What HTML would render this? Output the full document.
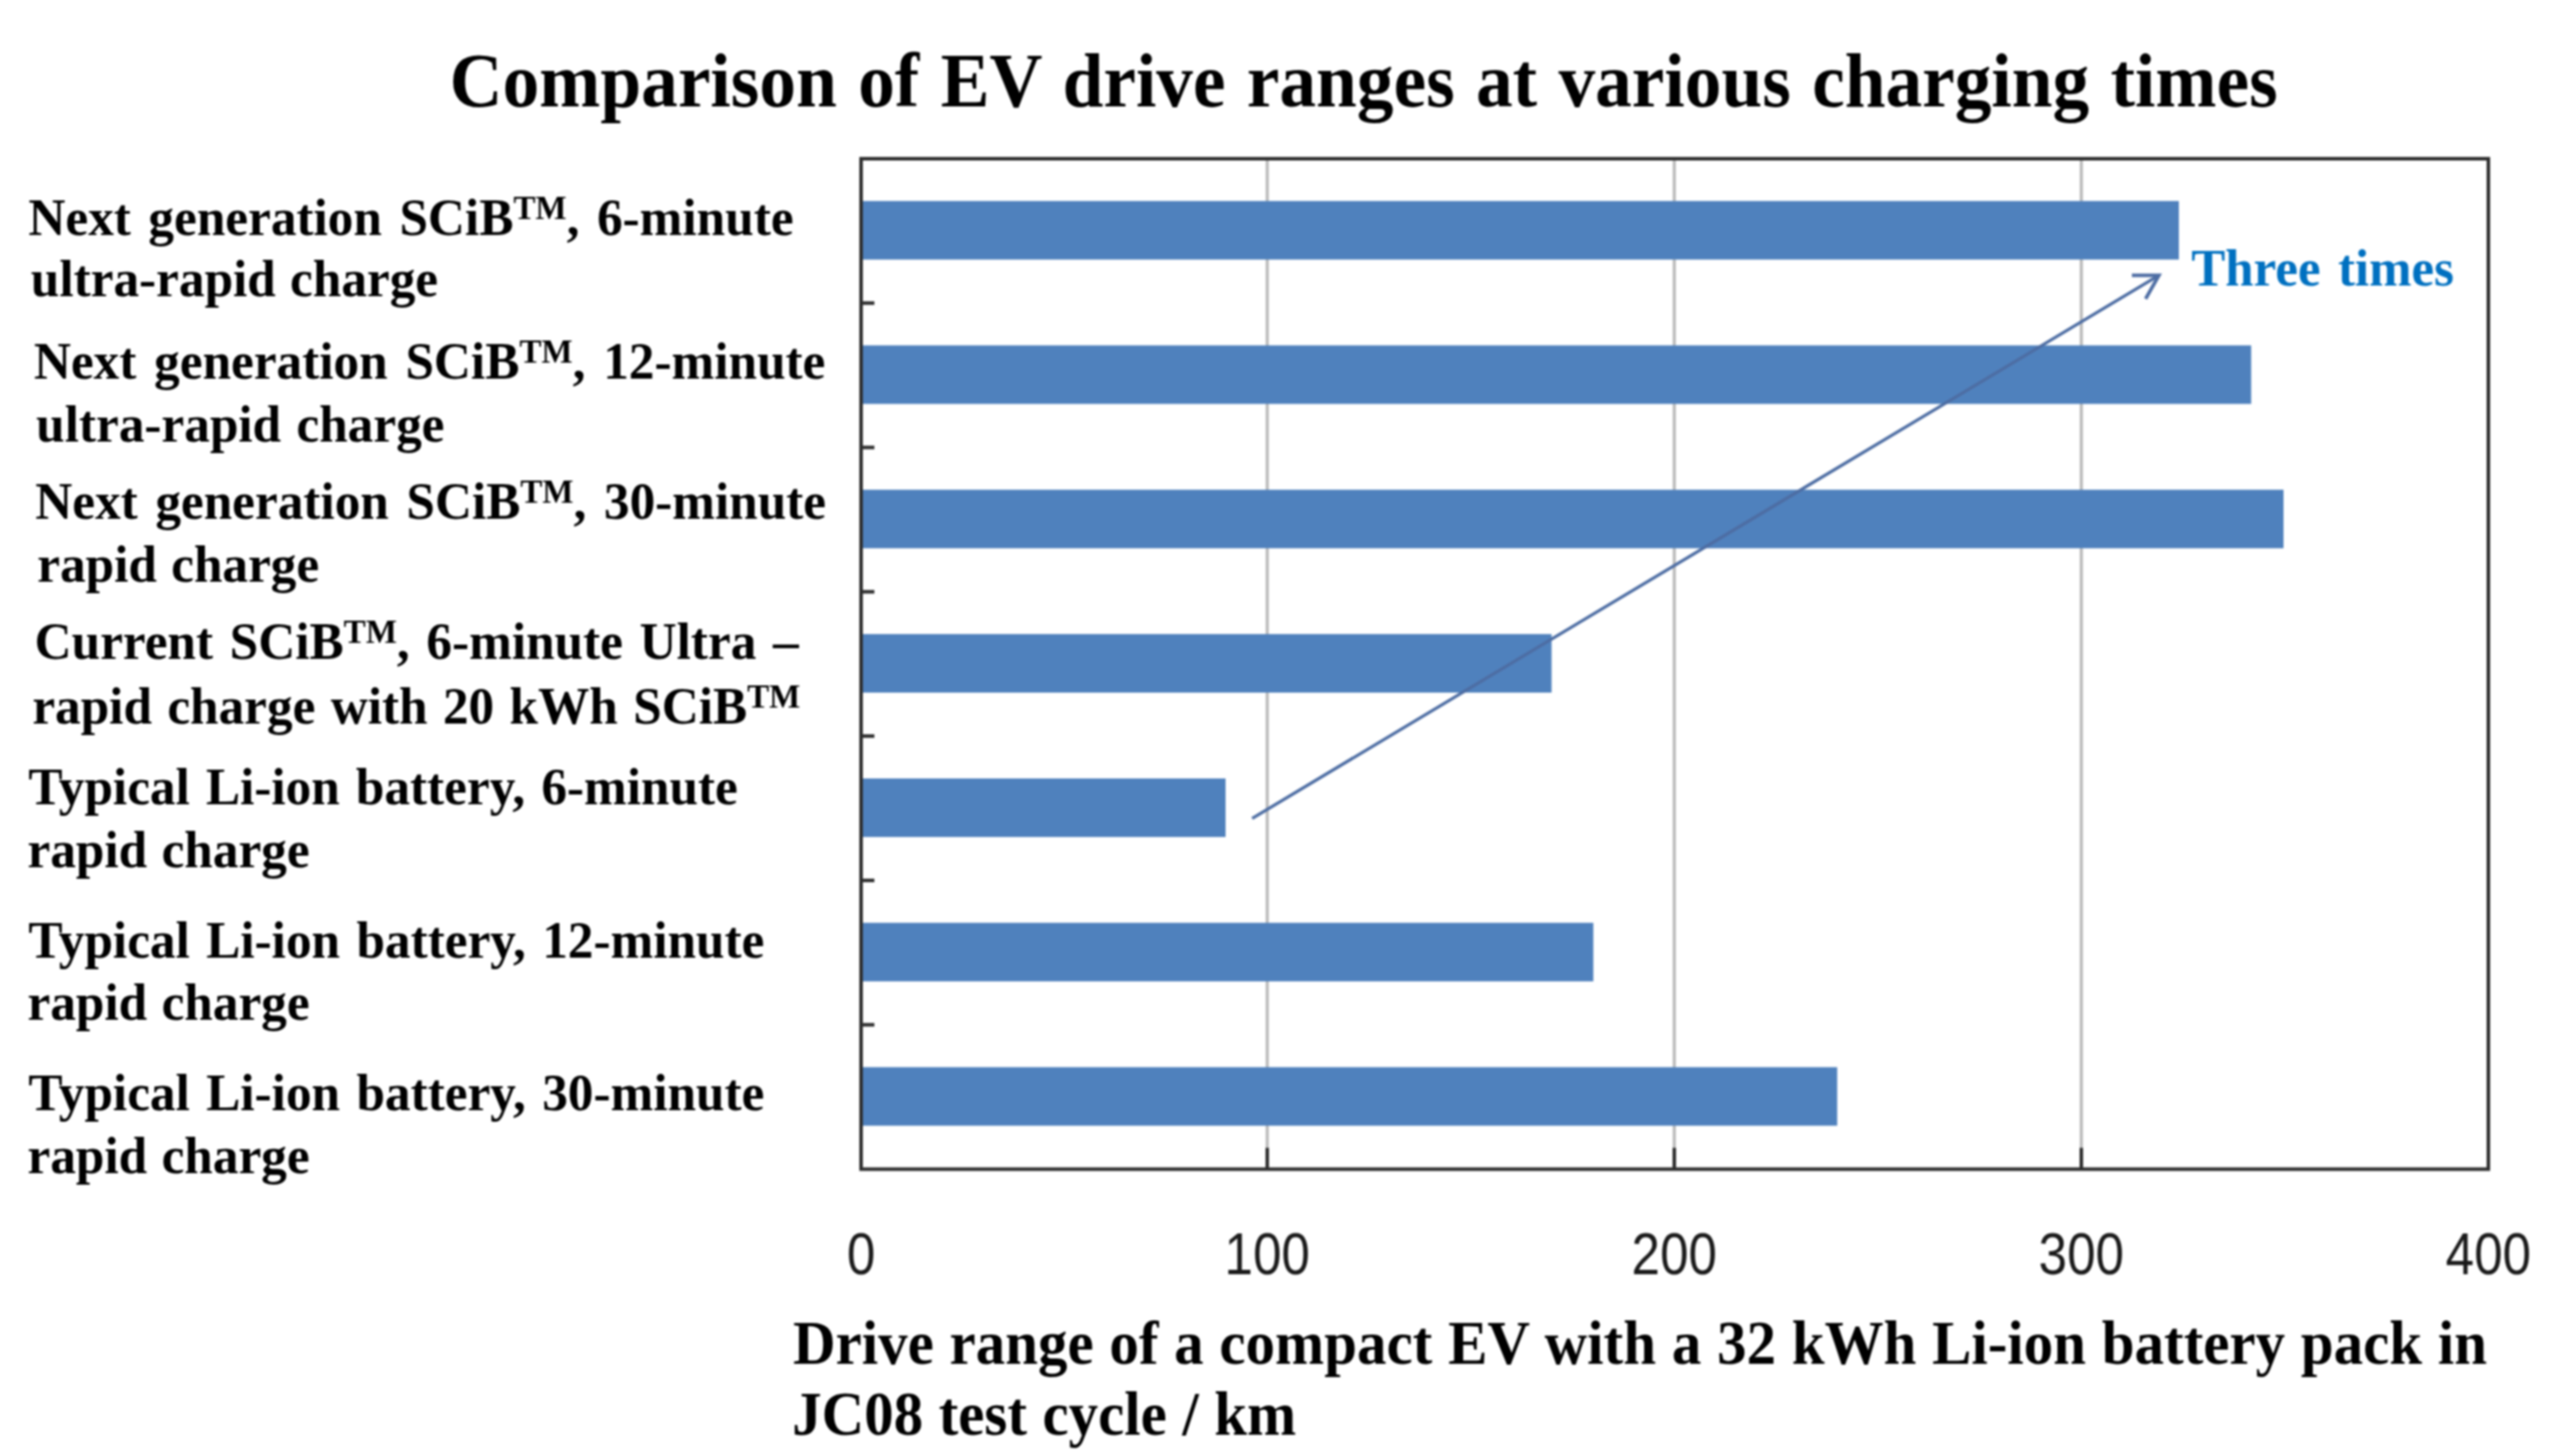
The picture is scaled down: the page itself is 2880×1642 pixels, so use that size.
<!DOCTYPE html><html><head><meta charset="utf-8"><style>html,body{margin:0;padding:0;background:#fff;overflow:hidden}svg{display:block;filter:blur(1px)}text{font-family:"Liberation Serif",serif;font-weight:bold}</style></head><body>
<svg width="2880" height="1642" viewBox="0 0 2880 1642">
<rect width="2880" height="1642" fill="#fff"/>
<line x1="1429.0" y1="179" x2="1429.0" y2="1318.5" stroke="#bababa" stroke-width="3.5"/>
<line x1="1888.0" y1="179" x2="1888.0" y2="1318.5" stroke="#bababa" stroke-width="3.5"/>
<line x1="2347.0" y1="179" x2="2347.0" y2="1318.5" stroke="#bababa" stroke-width="3.5"/>
<rect x="971" y="226.7" width="1486.0" height="66" fill="#4f81bd"/>
<rect x="971" y="389.5" width="1567.5" height="66" fill="#4f81bd"/>
<rect x="971" y="552.3" width="1604.0" height="66" fill="#4f81bd"/>
<rect x="971" y="715.1" width="778.6" height="66" fill="#4f81bd"/>
<rect x="971" y="877.9" width="411.0" height="66" fill="#4f81bd"/>
<rect x="971" y="1040.7" width="825.7" height="66" fill="#4f81bd"/>
<rect x="971" y="1203.5" width="1100.7" height="66" fill="#4f81bd"/>
<line x1="1412" y1="923" x2="2434.5" y2="310.5" stroke="#4d6da3" stroke-width="3.5"/>
<polyline points="2404,310.5 2434.5,310.5 2419.5,337" fill="none" stroke="#4d6da3" stroke-width="4"/>
<rect x="971" y="179" width="1835" height="1139.5" fill="none" stroke="#2e2e2e" stroke-width="4"/>
<line x1="971" y1="341.8" x2="986" y2="341.8" stroke="#2e2e2e" stroke-width="4"/>
<line x1="971" y1="504.6" x2="986" y2="504.6" stroke="#2e2e2e" stroke-width="4"/>
<line x1="971" y1="667.4" x2="986" y2="667.4" stroke="#2e2e2e" stroke-width="4"/>
<line x1="971" y1="830.1" x2="986" y2="830.1" stroke="#2e2e2e" stroke-width="4"/>
<line x1="971" y1="992.9" x2="986" y2="992.9" stroke="#2e2e2e" stroke-width="4"/>
<line x1="971" y1="1155.7" x2="986" y2="1155.7" stroke="#2e2e2e" stroke-width="4"/>
<line x1="1429.0" y1="1294.5" x2="1429.0" y2="1318.5" stroke="#2e2e2e" stroke-width="4"/>
<line x1="1888.0" y1="1294.5" x2="1888.0" y2="1318.5" stroke="#2e2e2e" stroke-width="4"/>
<line x1="2347.0" y1="1294.5" x2="2347.0" y2="1318.5" stroke="#2e2e2e" stroke-width="4"/>
<text x="971.0" y="1437.5" style="font-family:'Liberation Sans',sans-serif;font-weight:normal" font-size="66.3" fill="#1a1a1a" text-anchor="middle" transform="translate(971.0,0) scale(0.871,1) translate(-971.0,0)">0</text>
<text x="1429.0" y="1437.5" style="font-family:'Liberation Sans',sans-serif;font-weight:normal" font-size="66.3" fill="#1a1a1a" text-anchor="middle" transform="translate(1429.0,0) scale(0.871,1) translate(-1429.0,0)">100</text>
<text x="1888.0" y="1437.5" style="font-family:'Liberation Sans',sans-serif;font-weight:normal" font-size="66.3" fill="#1a1a1a" text-anchor="middle" transform="translate(1888.0,0) scale(0.871,1) translate(-1888.0,0)">200</text>
<text x="2347.0" y="1437.5" style="font-family:'Liberation Sans',sans-serif;font-weight:normal" font-size="66.3" fill="#1a1a1a" text-anchor="middle" transform="translate(2347.0,0) scale(0.871,1) translate(-2347.0,0)">300</text>
<text x="2806.0" y="1437.5" style="font-family:'Liberation Sans',sans-serif;font-weight:normal" font-size="66.3" fill="#1a1a1a" text-anchor="middle" transform="translate(2806.0,0) scale(0.871,1) translate(-2806.0,0)">400</text>
<text x="507.00" y="120" font-size="86" style="word-spacing:3.51px" transform="translate(507.00,0) scale(0.962,1) translate(-507.00,0)">Comparison of EV drive ranges at various charging times</text>
<text x="32.00" y="265.0" font-size="59" style="word-spacing:5.44px" transform="translate(32.00,0) scale(0.98,1) translate(-32.00,0)">Next generation SCiB<tspan font-size="38" dy="-18">TM</tspan><tspan dy="18">, 6-minute</tspan></text>
<text x="34.80" y="334.3" font-size="59" style="word-spacing:1.63px" transform="translate(34.80,0) scale(0.98,1) translate(-34.80,0)">ultra-rapid charge</text>
<text x="38.20" y="427.4" font-size="59" style="word-spacing:5.71px" transform="translate(38.20,0) scale(0.98,1) translate(-38.20,0)">Next generation SCiB<tspan font-size="38" dy="-18">TM</tspan><tspan dy="18">, 12-minute</tspan></text>
<text x="40.80" y="498.0" font-size="59" style="word-spacing:2.86px" transform="translate(40.80,0) scale(0.98,1) translate(-40.80,0)">ultra-rapid charge</text>
<text x="39.80" y="585.3" font-size="59" style="word-spacing:5.44px" transform="translate(39.80,0) scale(0.98,1) translate(-39.80,0)">Next generation SCiB<tspan font-size="38" dy="-18">TM</tspan><tspan dy="18">, 30-minute</tspan></text>
<text x="42.00" y="656.0" font-size="59" style="word-spacing:1.63px" transform="translate(42.00,0) scale(0.98,1) translate(-42.00,0)">rapid charge</text>
<text x="39.00" y="743.0" font-size="59" style="word-spacing:4.44px" transform="translate(39.00,0) scale(0.98,1) translate(-39.00,0)">Current SCiB<tspan font-size="38" dy="-18">TM</tspan><tspan dy="18">, 6-minute Ultra –</tspan></text>
<text x="36.40" y="815.8" font-size="59" style="word-spacing:2.92px" transform="translate(36.40,0) scale(0.98,1) translate(-36.40,0)">rapid charge with 20 kWh SCiB<tspan font-size="38" dy="-18">TM</tspan><tspan dy="18"></tspan></text>
<text x="32.00" y="907.4" font-size="59" style="word-spacing:3.74px" transform="translate(32.00,0) scale(0.98,1) translate(-32.00,0)">Typical Li-ion battery, 6-minute</text>
<text x="31.00" y="978.0" font-size="59" style="word-spacing:1.84px" transform="translate(31.00,0) scale(0.98,1) translate(-31.00,0)">rapid charge</text>
<text x="32.00" y="1079.6" font-size="59" style="word-spacing:4.08px" transform="translate(32.00,0) scale(0.98,1) translate(-32.00,0)">Typical Li-ion battery, 12-minute</text>
<text x="31.00" y="1150.3" font-size="59" style="word-spacing:1.84px" transform="translate(31.00,0) scale(0.98,1) translate(-31.00,0)">rapid charge</text>
<text x="32.00" y="1252.5" font-size="59" style="word-spacing:4.08px" transform="translate(32.00,0) scale(0.98,1) translate(-32.00,0)">Typical Li-ion battery, 30-minute</text>
<text x="31.00" y="1323.2" font-size="59" style="word-spacing:1.84px" transform="translate(31.00,0) scale(0.98,1) translate(-31.00,0)">rapid charge</text>
<text x="2471.00" y="321.7" font-size="58.6" fill="#0070c0" style="word-spacing:5.61px" transform="translate(2471.00,0) scale(0.98,1) translate(-2471.00,0)">Three times</text>
<text x="894.20" y="1538.1" font-size="70" style="word-spacing:1.19px" transform="translate(894.20,0) scale(0.95,1) translate(-894.20,0)">Drive range of a compact EV with a 32 kWh Li-ion battery pack in</text>
<text x="893.20" y="1618" font-size="70" style="word-spacing:0.89px" transform="translate(893.20,0) scale(0.95,1) translate(-893.20,0)">JC08 test cycle / km</text>
</svg></body></html>
